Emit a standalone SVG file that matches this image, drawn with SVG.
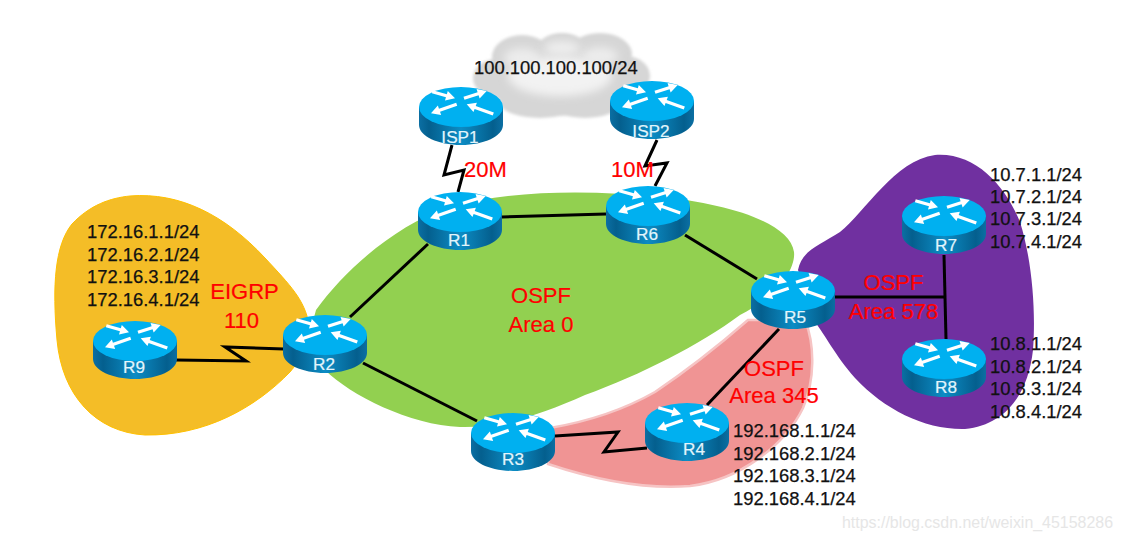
<svg xmlns="http://www.w3.org/2000/svg" xmlns:xlink="http://www.w3.org/1999/xlink" width="1122" height="540" viewBox="0 0 1122 540">
<style>
text{font-family:"Liberation Sans",Arial,sans-serif}
.ip{font-size:18.4px;fill:#111;stroke:#111;stroke-width:.25}
.red{font-size:22px;fill:#f00;stroke:#f00;stroke-width:.2}
.rl{font-size:17.2px;fill:#e2f5fc;stroke:#e2f5fc;stroke-width:.2;text-anchor:middle}
.ln{fill:none;stroke:#000;stroke-width:3;stroke-linejoin:miter}
</style>
<defs>
<linearGradient id="body" x1="0" x2="1" y1="0" y2="0">
<stop offset="0" stop-color="#0b6fa3"/><stop offset=".12" stop-color="#045f8e"/><stop offset=".5" stop-color="#0c8cc4"/><stop offset=".88" stop-color="#045f8e"/><stop offset="1" stop-color="#0b6fa3"/>
</linearGradient>
<filter id="bl" x="-10%" y="-10%" width="120%" height="120%"><feGaussianBlur stdDeviation="1.5"/></filter>
<filter id="bl2" x="-30%" y="-30%" width="160%" height="160%"><feGaussianBlur stdDeviation="4"/></filter>
<g id="router">
<path d="M-42 0V18C-42 29 -23 38 0 38S42 29 42 18V0Z" fill="url(#body)"/>
<ellipse rx="42" ry="20" fill="#00b0f0"/>
<g fill="#fff">
<polygon points="-29.15,-13.76 -15.05,-9.66 -16,-6.4 -6,-8.7 -13.2,-16 -14.15,-12.74 -28.25,-16.84"/>
<polygon points="3.49,-7.18 17.6,-11.73 18.63,-8.49 25.7,-16 15.57,-18 16.6,-14.77 2.5,-10.2"/>
<polygon points="-3.77,-1.19 -20.97,4.84 -19.85,8.05 -30,6.3 -23.15,-1.39 -22.03,1.82 -4.83,-4.21"/>
<polygon points="31.75,8.5 13.61,1.89 12.44,5.09 5.7,-2.7 15.88,-4.31 14.71,-1.11 32.85,5.5"/>
</g>
</g>
</defs>

<g id="areas">
<path id="area-eigrp" d="M130 196C180 192 225 215 265 258C290 285 305 300 309 325C312 345 300 360 290 372C255 408 205 436 145 435C95 432 62 395 57 340C52 285 55 245 72 224C90 205 110 198 130 196Z" fill="#f4bd27" stroke="#ffc000" stroke-width="1"/>
<path id="area-0" d="M316 310C345 270 395 225 450 207C510 190 590 190 660 197C725 203 790 222 794 252C796 270 775 298 740 315C700 345 640 375 585 395C540 415 500 428 460 427C410 425 350 395 325 370C312 350 310 330 316 310Z" fill="#92d050"/>
<path id="area-345" d="M748 320C725 340 695 365 655 392C620 412 585 422 550 428L548 464C590 478 640 490 690 486C740 480 785 445 803 408C815 380 815 345 805 320Z" fill="#f09494" stroke="#f6c4c4" stroke-width="2.500"/>
<path id="area-578" d="M798 270C802 250 820 245 840 232C865 212 895 160 935 155C975 152 1005 185 1020 222C1032 260 1036 310 1033 350C1028 395 1005 425 965 429C925 430 885 410 855 378C835 355 825 335 815 322Z" fill="#7030a0"/>
</g>

<g id="cloud">
<g filter="url(#bl)" fill="#d6d6d6">
<ellipse cx="560" cy="78" rx="75" ry="38"/>
<ellipse cx="497" cy="78" rx="24" ry="19"/>
<ellipse cx="522" cy="57" rx="30" ry="22"/>
<ellipse cx="562" cy="49" rx="25" ry="16"/>
<ellipse cx="600" cy="54" rx="32" ry="21"/>
<ellipse cx="625" cy="76" rx="25" ry="20"/>
<ellipse cx="540" cy="103" rx="40" ry="15"/>
<ellipse cx="585" cy="103" rx="36" ry="15"/>
</g>
<ellipse cx="560" cy="76" rx="52" ry="20" fill="#f2f2f2" filter="url(#bl2)"/>
<ellipse cx="522" cy="58" rx="18" ry="10" fill="#ececec" filter="url(#bl2)"/>
<ellipse cx="600" cy="56" rx="18" ry="9" fill="#ececec" filter="url(#bl2)"/>
<ellipse cx="562" cy="48" rx="18" ry="7" fill="#eeeeee" filter="url(#bl2)"/>
</g>

<g id="connectors">
<path class="ln" d="M452 145L444 175L464 170L458 192"/>
<path class="ln" d="M657 140L645 166L667 163L655 186"/>
<path class="ln" d="M502 217L606 214"/>
<path class="ln" d="M428 244L350 317"/>
<path class="ln" d="M685 235L757 279"/>
<path class="ln" d="M363 363L477 421"/>
<path class="ln" d="M176 360L246 361L225 347L284 349"/>
<path class="ln" d="M555 436L618 432L604 452L647 448"/>
<path class="ln" d="M707 405L779 329"/>
<path class="ln" d="M834 297L945 297"/>
<path class="ln" d="M944 255L946 339"/>
</g>

<g id="isp1"><use xlink:href="#router" href="#router" x="461" y="107"/><text class="rl" x="460" y="143">ISP1</text></g>
<g id="isp2"><use xlink:href="#router" href="#router" x="652" y="101"/><text class="rl" x="651" y="137">ISP2</text></g>
<g id="r1"><use xlink:href="#router" href="#router" x="460" y="212"/><text class="rl" x="459" y="246">R1</text></g>
<g id="r6"><use xlink:href="#router" href="#router" x="648" y="206"/><text class="rl" x="647" y="240">R6</text></g>
<g id="r9"><use xlink:href="#router" href="#router" x="135" y="341"/><text class="rl" x="134" y="373">R9</text></g>
<g id="r2"><use xlink:href="#router" href="#router" x="325" y="335"/><text class="rl" x="324" y="370">R2</text></g>
<g id="r5"><use xlink:href="#router" href="#router" x="793" y="291"/><text class="rl" x="795" y="323">R5</text></g>
<g id="r7"><use xlink:href="#router" href="#router" x="944" y="216"/><text class="rl" x="946" y="251">R7</text></g>
<g id="r8"><use xlink:href="#router" href="#router" x="944" y="359"/><text class="rl" x="946" y="393">R8</text></g>
<g id="r3"><use xlink:href="#router" href="#router" x="513" y="433"/><text class="rl" x="513" y="465">R3</text></g>
<g id="r4"><use xlink:href="#router" href="#router" x="687" y="423"/><text class="rl" x="694" y="455">R4</text></g>

<g id="labels">
<text class="ip" x="474" y="74">100.100.100.100/24</text>
<text class="red" x="464" y="177">20M</text>
<text class="red" x="611" y="177">10M</text>
<text class="ip" x="87" y="238">172.16.1.1/24</text>
<text class="ip" x="87" y="261">172.16.2.1/24</text>
<text class="ip" x="87" y="283">172.16.3.1/24</text>
<text class="ip" x="87" y="306">172.16.4.1/24</text>
<text class="red" x="244.500" y="299" text-anchor="middle">EIGRP</text>
<text class="red" x="241.500" y="328" text-anchor="middle">110</text>
<text class="red" x="541" y="303" text-anchor="middle">OSPF</text>
<text class="red" x="541" y="332" text-anchor="middle">Area 0</text>
<text class="red" x="893.500" y="290" text-anchor="middle">OSPF</text>
<text class="red" x="893.500" y="319" text-anchor="middle">Area 578</text>
<text class="red" x="774" y="376" text-anchor="middle">OSPF</text>
<text class="red" x="774" y="403" text-anchor="middle">Area 345</text>
<text class="ip" x="990" y="181">10.7.1.1/24</text>
<text class="ip" x="990" y="203">10.7.2.1/24</text>
<text class="ip" x="990" y="225">10.7.3.1/24</text>
<text class="ip" x="990" y="248">10.7.4.1/24</text>
<text class="ip" x="990" y="350">10.8.1.1/24</text>
<text class="ip" x="990" y="373">10.8.2.1/24</text>
<text class="ip" x="990" y="395">10.8.3.1/24</text>
<text class="ip" x="990" y="418">10.8.4.1/24</text>
<text class="ip" x="733" y="437">192.168.1.1/24</text>
<text class="ip" x="733" y="460">192.168.2.1/24</text>
<text class="ip" x="733" y="482">192.168.3.1/24</text>
<text class="ip" x="733" y="505">192.168.4.1/24</text>
<text x="842" y="528" font-size="16" fill="#e6e6e6" textLength="271" lengthAdjust="spacingAndGlyphs">https://blog.csdn.net/weixin_45158286</text>
</g>
</svg>
